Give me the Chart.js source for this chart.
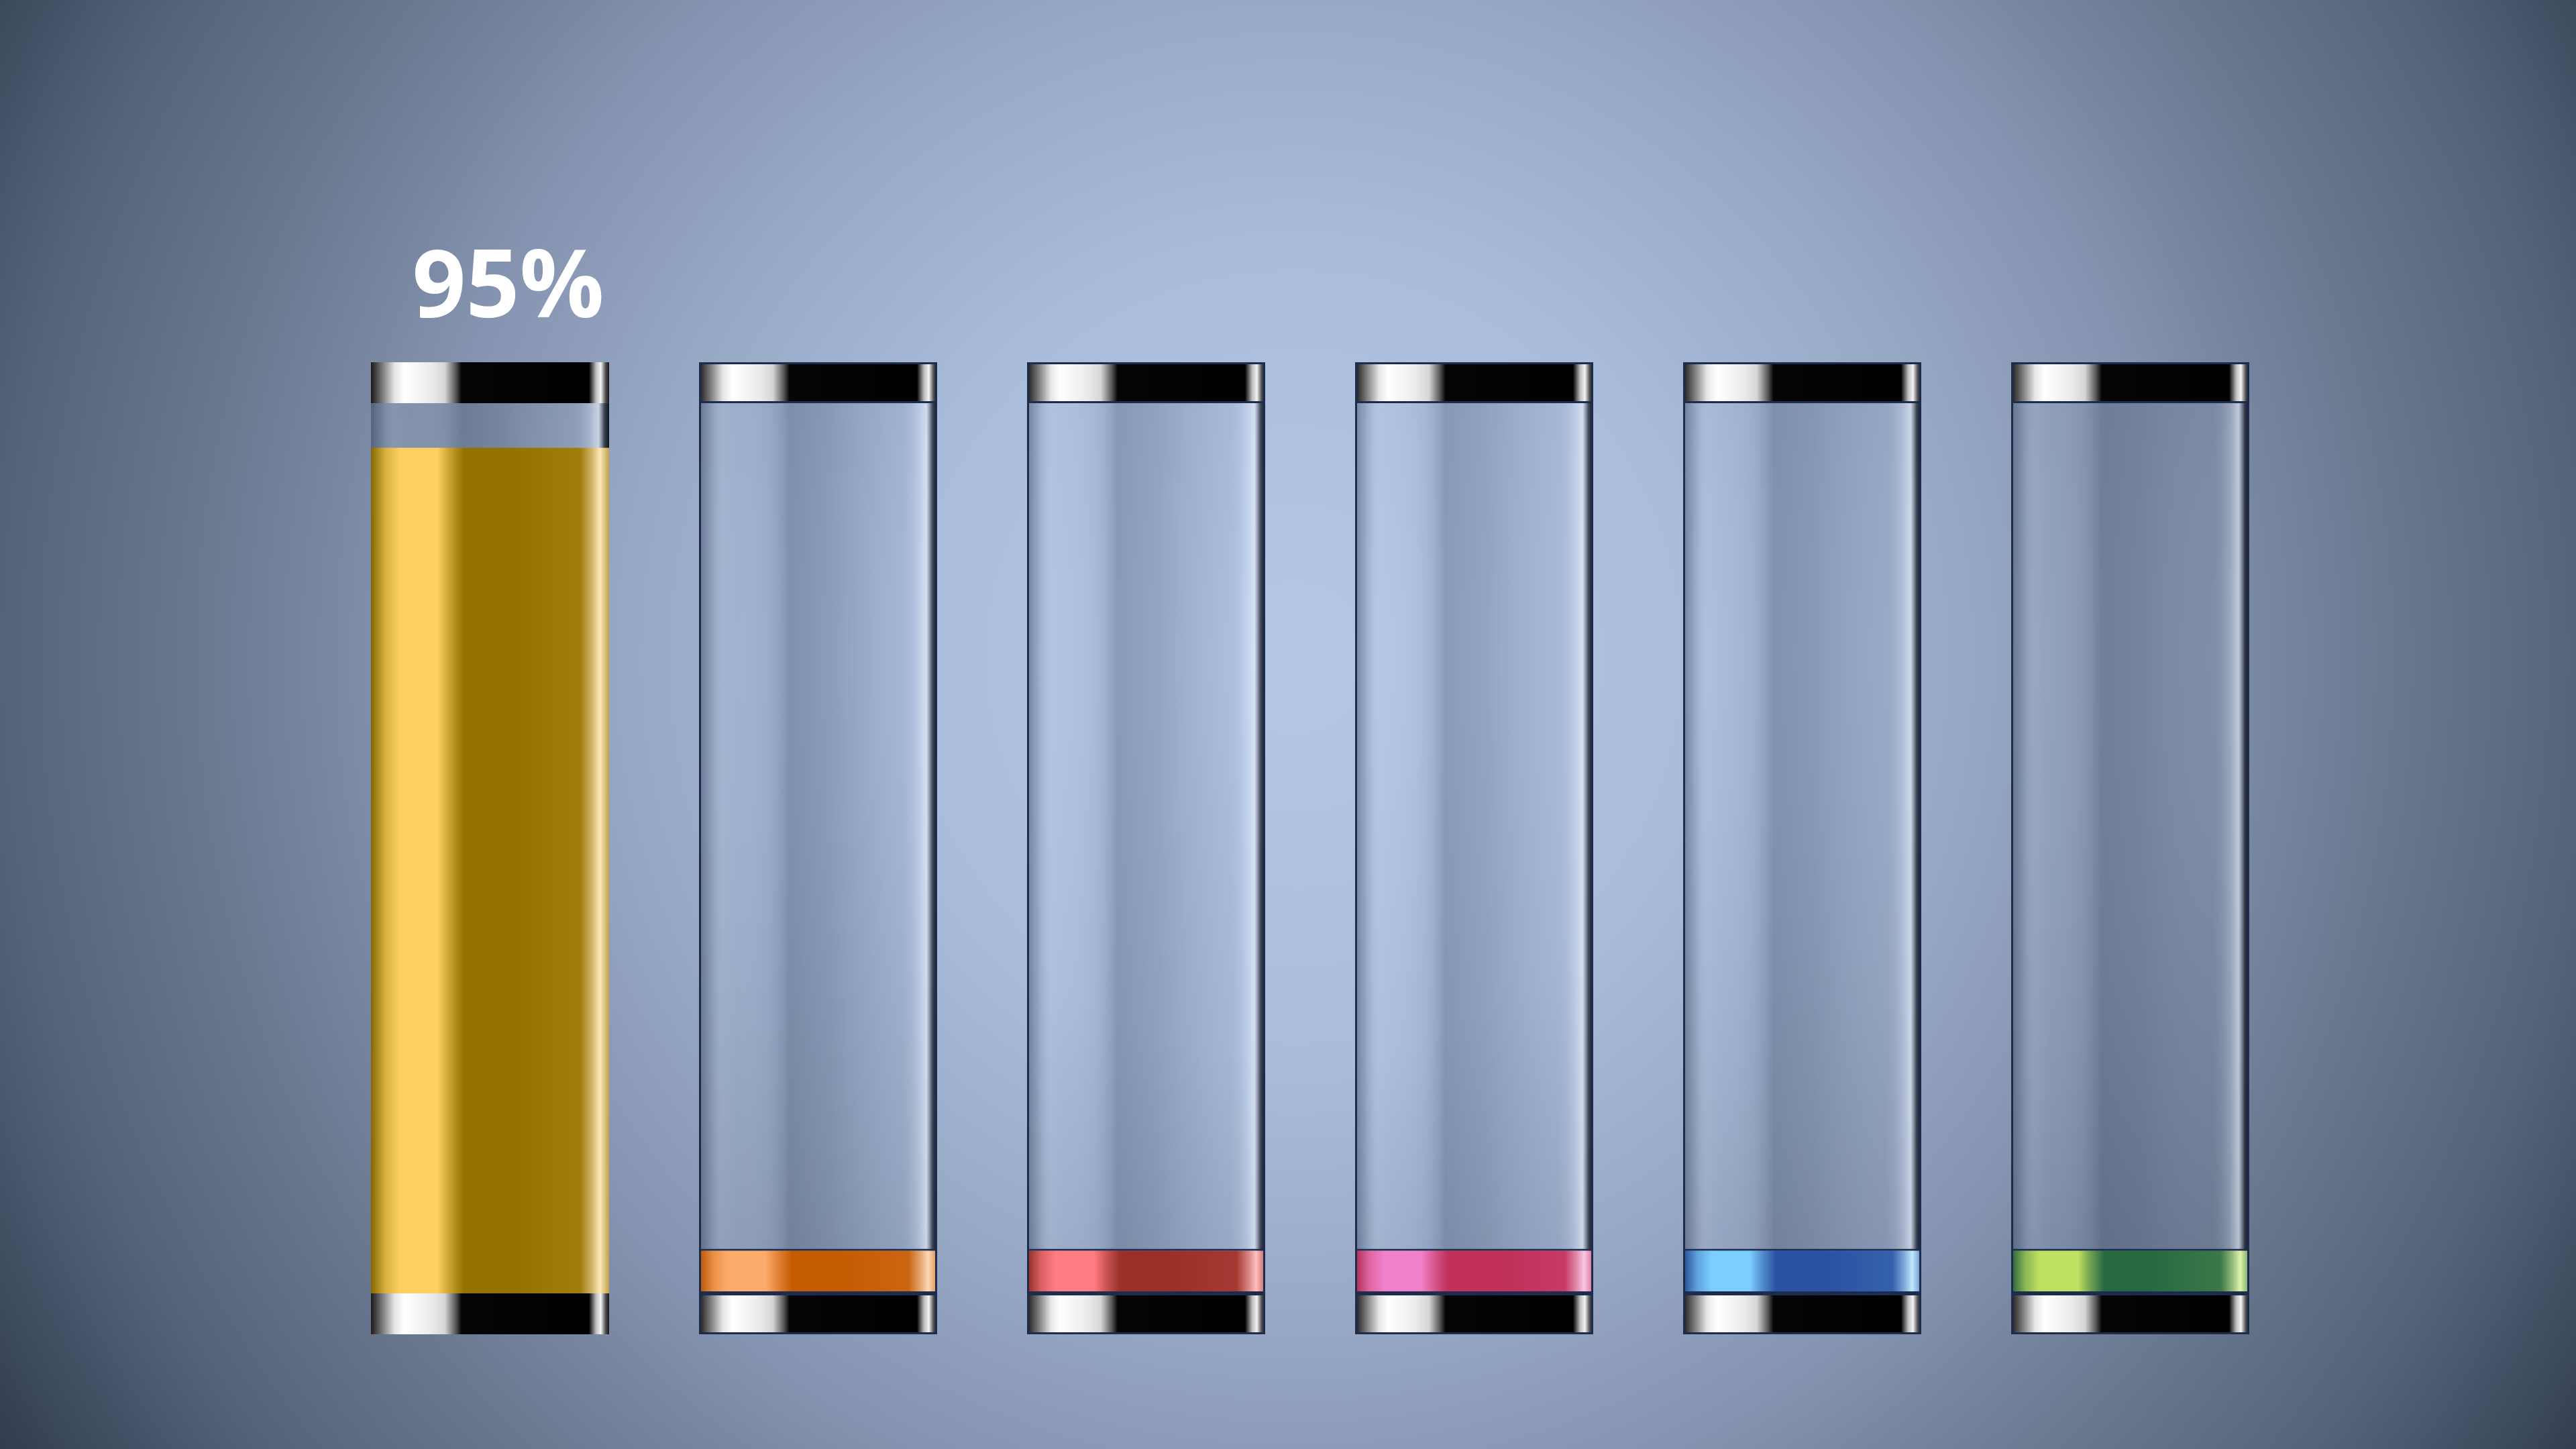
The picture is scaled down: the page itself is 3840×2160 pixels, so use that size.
<!DOCTYPE html>
<html>
<head>
<meta charset="utf-8">
<script src="https://cdn.jsdelivr.net/npm/chart.js@4.4.1/dist/chart.umd.min.js"></script>
<style>
html, body { margin: 0; padding: 0; width: 3840px; height: 2160px; overflow: hidden; }
body {
  background: radial-gradient(circle 2250px at 1930px 980px,
    #b5c7e7 0px, #aabcdc 600px, #97a8c4 1000px, #8594b0 1300px,
    #6a7890 1630px, #55637a 1930px, #333e50 2250px);
}
canvas { display: block; }
</style>
</head>
<body>
<canvas id="c" width="3840" height="2160"></canvas>
<script>
// ---- data ----
const categories = ['1', '2', '3', '4', '5', '6'];
const fillValues = [95, 5, 5, 5, 5, 5];
const labelledBars = [0];
const tubeMax = 100;
const capValue = 4.6;   // height of the metal caps, in value units
const fillLight = ['#fcd062', '#fdab6a', '#ff7c84', '#f080c8', '#7ccefe', '#c0e060'];
const fillDark  = ['#957200', '#c45c04', '#9a3028', '#c03058', '#2a52a2', '#286a42'];
const fillShine = ['#fde8b8', '#fdd8b8', '#ffc0c0', '#f8c8e4', '#c0e8ff', '#e0f4a8'];

// ---- helpers ----
const BAR_PCT = 0.726;
function hex2rgb(h) { h = h.replace('#', ''); return [0, 2, 4].map(i => parseInt(h.substr(i, 2), 16)); }
function mix(a, b, t) {
  const A = hex2rgb(a), B = hex2rgb(b);
  return 'rgb(' + A.map((v, i) => Math.round(v + (B[i] - v) * t)).join(',') + ')';
}
function barSpan(chart, i) {
  const xs = chart.scales && chart.scales.x;
  if (!xs) return null;
  const cx = xs.getPixelForValue(i);
  const w = xs.width / categories.length * BAR_PCT;
  if (!isFinite(cx) || !isFinite(w) || w <= 0) return null;
  return [cx - w / 2, cx + w / 2];
}
function grad(chart, i, stops, fallback) {
  const span = barSpan(chart, i);
  if (!span) return fallback;
  const g = chart.ctx.createLinearGradient(span[0], 0, span[1], 0);
  stops.forEach(s => g.addColorStop(s[0], s[1]));
  return g;
}
function capGradient(ctx) {
  if (ctx.type !== 'data') return '#000';
  return grad(ctx.chart, ctx.dataIndex, [
    [0, '#1a1a1a'], [0.04, '#6a6a6a'], [0.1, '#e6e6e6'], [0.14, '#ffffff'],
    [0.25, '#ececec'], [0.31, '#d6d6d6'], [0.355, '#5a5a5a'], [0.38, '#050505'],
    [0.915, '#000000'], [0.945, '#bcbcbc'], [0.965, '#f4f4f4'], [0.985, '#505050'], [1, '#151515']
  ], '#000');
}
function glassGradient(ctx) {
  if (ctx.type !== 'data') return 'rgba(0,0,0,0)';
  return grad(ctx.chart, ctx.dataIndex, [
    [0, 'rgba(40,50,70,0.45)'], [0.04, 'rgba(70,85,110,0.28)'],
    [0.1, 'rgba(220,230,245,0.10)'], [0.17, 'rgba(200,212,232,0.04)'],
    [0.3, 'rgba(110,125,150,0.14)'], [0.38, 'rgba(55,70,95,0.32)'],
    [0.55, 'rgba(65,80,105,0.26)'], [0.85, 'rgba(120,135,160,0.12)'],
    [0.92, 'rgba(230,238,250,0.28)'], [0.955, 'rgba(240,245,255,0.60)'],
    [0.98, 'rgba(30,35,50,0.75)'], [1, 'rgba(10,15,25,1)']
  ], 'rgba(80,90,110,0.2)');
}
function fillGradient(ctx) {
  if (ctx.type !== 'data') return '#888';
  const i = ctx.dataIndex, L = fillLight[i], D = fillDark[i], S = fillShine[i];
  return grad(ctx.chart, i, [
    [0, mix(D, '#000000', 0.1)], [0.06, mix(L, D, 0.35)], [0.12, L], [0.28, L],
    [0.33, mix(L, D, 0.5)], [0.39, D], [0.6, D], [0.88, mix(D, L, 0.12)],
    [0.93, mix(D, S, 0.6)], [0.962, S], [1, mix(D, S, 0.4)]
  ], D);
}
// the highlighted (labelled) tube has no navy outline
function outline(w) {
  return ctx => (ctx.type === 'data' && labelledBars.includes(ctx.dataIndex)) ? 0 : w;
}

const labelPlugin = {
  id: 'valueLabel',
  afterDatasetsDraw(chart) {
    const c = chart.ctx;
    const capMeta = chart.getDatasetMeta(3);
    c.save();
    c.fillStyle = '#ffffff';
    c.font = 'bold 140px "Open Sans", "Noto Sans", sans-serif';
    c.textAlign = 'center';
    c.textBaseline = 'alphabetic';
    labelledBars.forEach(i => {
      const el = capMeta.data[i];
      c.fillText(fillValues[i] + '%', el.x + 27, el.y - 67);
    });
    c.restore();
  }
};

const navy = '#1d2b4c';
const chart = new Chart(document.getElementById('c'), {
  type: 'bar',
  data: {
    labels: categories,
    datasets: [
      { label: 'glass', data: categories.map(() => [0, tubeMax]), order: 4, grouped: false,
        backgroundColor: glassGradient, borderColor: navy,
        borderWidth: ctx => (ctx.type === 'data' && labelledBars.includes(ctx.dataIndex)) ? 0 : { left: 3, right: 3, top: 0, bottom: 0 },
        borderSkipped: false },
      { label: 'fill', data: fillValues.map(v => [0, v]), order: 3, grouped: false,
        backgroundColor: fillGradient, borderColor: navy, borderWidth: outline(3), borderSkipped: false },
      { label: 'bottomCap', data: categories.map(() => [-capValue, 0]), order: 2, grouped: false,
        backgroundColor: capGradient, borderColor: navy, borderWidth: outline(3), borderSkipped: false },
      { label: 'topCap', data: categories.map(() => [tubeMax, tubeMax + capValue]), order: 1, grouped: false,
        backgroundColor: capGradient, borderColor: navy, borderWidth: outline(3), borderSkipped: false }
    ]
  },
  options: {
    responsive: false,
    maintainAspectRatio: false,
    animation: false,
    devicePixelRatio: 1,
    layout: { padding: { left: 486, right: 420, top: 540, bottom: 171 } },
    datasets: { bar: { barPercentage: BAR_PCT, categoryPercentage: 1 } },
    scales: {
      x: { display: false, offset: true },
      y: { display: false, min: -capValue, max: tubeMax + capValue }
    },
    plugins: { legend: { display: false }, tooltip: { enabled: false } }
  },
  plugins: [labelPlugin]
});
chart.update();
</script>
</body>
</html>
